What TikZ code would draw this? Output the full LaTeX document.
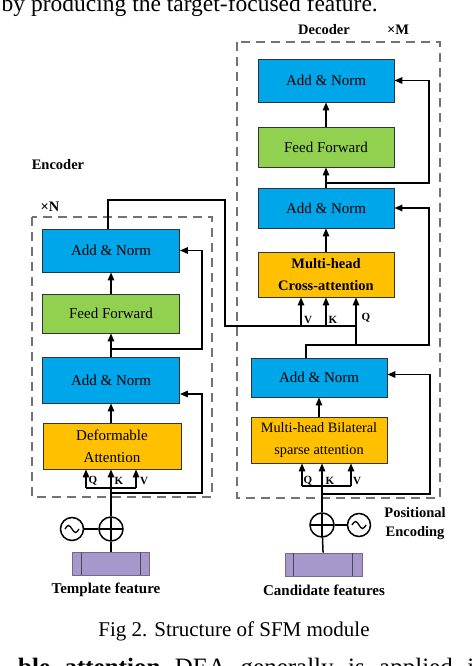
\documentclass[tikz,border=0pt]{standalone}
\usepackage{fontspec}
\setmainfont{Liberation Serif}
\usepackage{xcolor}
\usepackage{tikz}
\usetikzlibrary{positioning,arrows.meta,calc}

\definecolor{anblue}{RGB}{0,166,234}
\definecolor{ffgreen}{RGB}{146,208,80}
\definecolor{attyellow}{RGB}{255,192,0}
\definecolor{featpurple}{RGB}{166,152,202}

\begin{document}
\begin{tikzpicture}[
    x=1pt, y=-1pt,
    block/.style={draw=black!80, fill=#1, line width=0.9pt, minimum width=136pt, inner sep=0pt,
      align=center, font=\fontsize{15}{22}\selectfont},
    block/.default=anblue,
    wire/.style={line width=1.5pt},
    link/.style={wire, -{Triangle[length=8pt,width=6.5pt]}},
    frame/.style={draw=black!55, line width=1.4pt, dash pattern=on 9pt off 6pt},
    port/.style={font=\bfseries\fontsize{11}{12}\selectfont, inner sep=0pt},
    title/.style={font=\bfseries\fontsize{14.5}{17}\selectfont, align=center},
    featbox/.style={draw=featpurple!70!black, fill=featpurple, line width=0.8pt,
      minimum width=77pt, minimum height=23pt, inner sep=0pt},
    plus/.style={circle, draw, line width=1.5pt, minimum size=24pt, inner sep=0pt,
      path picture={\draw[line width=1.3pt] (path picture bounding box.north) -- (path picture bounding box.south)
        (path picture bounding box.west) -- (path picture bounding box.east);}},
    wave/.style={circle, draw, line width=1.5pt, minimum size=23pt, inner sep=0pt, fill=white,
      path picture={\draw[line width=1.3pt] ([xshift=-7pt]path picture bounding box.center)
        sin ++(3.5,-3.5) cos ++(3.5,3.5) sin ++(3.5,3.5) cos ++(3.5,-3.5);}},
  ]
  \useasboundingbox (0,0) rectangle (474,666);

  % Page text around the figure
  \node[anchor=base east, inner sep=0pt, font=\fontsize{23.5}{28}\selectfont] (topline) at (378,12)
    {by producing the target-focused feature.};
  \node[anchor=base, inner sep=0pt, font=\fontsize{21}{25}\selectfont] (caption) at (234,636)
    {Fig 2. Structure of SFM module};
  \node[anchor=base west, inner sep=0pt, font=\fontsize{25}{30}\selectfont] (botline) at (18,675)
    {\makebox[456pt][s]{\textbf{ble attention} DEA generally is applied i}};

  % Dashed frames
  \draw[frame] (32,217) rectangle (212,497);
  \draw[frame] (237,42) rectangle (440,498);
  \node[title] (encTitle) at (58,165) {Encoder};
  \node[title] (encTimes) at (50,207) {×N};
  \node[title] (decTitle) at (324,30) {Decoder};
  \node[title] (decTimes) at (398,30) {×M};

  % Encoder blocks
  \node[block=anblue, minimum width=137pt, minimum height=43pt] (encNorm2) at (111,250.5) {Add \& Norm};
  \node[block=ffgreen, minimum width=137pt, minimum height=39pt] (encFF) at (111,313.5) {Feed Forward};
  \node[block=anblue, minimum width=137pt, minimum height=46pt] (encNorm1) at (111,380) {Add \& Norm};
  \node[block=attyellow, minimum width=138pt, minimum height=46pt] (encAttn) at (112,446) {Deformable\\Attention};

  % Decoder blocks
  \node[block=anblue, minimum height=43pt] (decNorm3) at (326,80.5) {Add \& Norm};
  \node[block=ffgreen, minimum height=40pt] (decFF) at (326,147) {Feed Forward};
  \node[block=anblue, minimum height=40pt] (decNorm2) at (326,208) {Add \& Norm};
  \node[block=attyellow, minimum height=45pt, font=\bfseries\fontsize{14.5}{22}\selectfont] (decCross) at (326,274.5)
    {Multi-head\\Cross-attention};
  \node[block=anblue, minimum height=39pt] (decNorm1) at (319,377.5) {Add \& Norm};
  \node[block=attyellow, minimum height=46pt, font=\fontsize{14.3}{22}\selectfont] (decSparse) at (319,440)
    {Multi-head Bilateral\\sparse attention};

  % Inputs and positional encoding
  \node[featbox] (tFeat) at (111,563.5) {};
  \node[featbox] (cFeat) at (323.5,564.5) {};
  \foreach \f in {tFeat,cFeat}{
    \draw[featpurple!45!black, line width=0.8pt] ([xshift=9pt]\f.north west) -- ([xshift=9pt]\f.south west);
    \draw[featpurple!45!black, line width=0.8pt] ([xshift=-10pt]\f.north east) -- ([xshift=-10pt]\f.south east);
  }
  \node[plus] (tPlus) at (111,529) {};
  \node[wave] (tSin) at (72,529) {};
  \node[plus] (cPlus) at (322,525) {};
  \node[wave] (cSin) at (359,525) {};
  \node[title, font=\bfseries\fontsize{15}{17}\selectfont] (tLabel) at (106,590) {Template feature};
  \node[title, font=\bfseries\fontsize{15}{17}\selectfont] (cLabel) at (324,590) {Candidate features};
  \node[title, font=\bfseries\fontsize{14.5}{19}\selectfont] (posLabel) at (415,524) {Positional\\Encoding};

  \draw[wire] (tFeat) -- (tPlus);
  \draw[wire] (tSin) -- (tPlus);
  \draw[wire] (cFeat) -- (cPlus);
  \draw[wire] (cSin) -- (cPlus);

  % Encoder connections
  \coordinate (encQ) at (86,488);
  \coordinate (encV) at (136,488);
  \coordinate (encSkip1) at (202,493);
  \coordinate (encSkip2) at (202,349);
  \draw[wire] (encQ) -- (encV);
  \draw[link] (encQ) -- (encQ |- encAttn.south);
  \draw[link] (encV) -- (encV |- encAttn.south);
  \draw[link] (tPlus.north) -- (tPlus.north |- encAttn.south);
  \node[port] (encQlab) at (93,481) {Q};
  \node[port] (encKlab) at (119,481) {K};
  \node[port] (encVlab) at (144,481) {V};
  \draw[link] (tPlus.north |- encSkip1) -- (encSkip1) |- ([yshift=-14pt]encNorm1.east);
  \draw[link] (encAttn.north -| encNorm1) -- (encNorm1.south);
  \draw[link] (encNorm1.north) |- (encSkip2) |- (encNorm2.east);
  \draw[link] (encNorm1) -- (encFF);
  \draw[link] (encFF) -- (encNorm2);

  % Encoder memory into cross-attention
  \coordinate (memTop) at (225,200);
  \coordinate (crossV) at (301,326);
  \coordinate (crossK) at (326,326);
  \coordinate (crossQ) at (356,345);
  \draw[wire] ([xshift=-3pt]encNorm2.north) |- (memTop) |- (crossQ |- crossV);
  \draw[link] (crossV) -- (crossV |- decCross.south);
  \draw[link] (crossK) -- (crossK |- decCross.south);
  \draw[link] (crossQ) -- (crossQ |- decCross.south);
  \node[port] (crossVlab) at (308,320) {V};
  \node[port] (crossKlab) at (333,320) {K};
  \node[port] (crossQlab) at (366,318) {Q};

  % Decoder connections
  \coordinate (sparseQ) at (302,486);
  \coordinate (sparseV) at (351,486);
  \coordinate (decSkip1) at (430,494);
  \coordinate (decSkip2) at (429,345);
  \coordinate (decSkip3) at (429,183);
  \draw[wire] (sparseQ) -- (sparseV);
  \draw[link] (sparseQ) -- (sparseQ |- decSparse.south);
  \draw[link] (sparseV) -- (sparseV |- decSparse.south);
  \draw[link] (cPlus.north) -- (cPlus.north |- decSparse.south);
  \node[port] (sparseQlab) at (308,481) {Q};
  \node[port] (sparseKlab) at (330,481) {K};
  \node[port] (sparseVlab) at (357,481) {V};
  \draw[link] (cPlus.north |- decSkip1) -- (decSkip1) |- ([yshift=3pt]decNorm1.east);
  \draw[link] (decSparse) -- (decNorm1);
  \draw[link] ([xshift=-13pt]decNorm1.north) |- (decSkip2) |- (decNorm2.east);
  \draw[link] (decCross) -- (decNorm2);
  \draw[link] (decNorm2.north) |- (decSkip3) |- (decNorm3.east);
  \draw[link] (decNorm2) -- (decFF);
  \draw[link] (decFF) -- (decNorm3);
\end{tikzpicture}
\end{document}
